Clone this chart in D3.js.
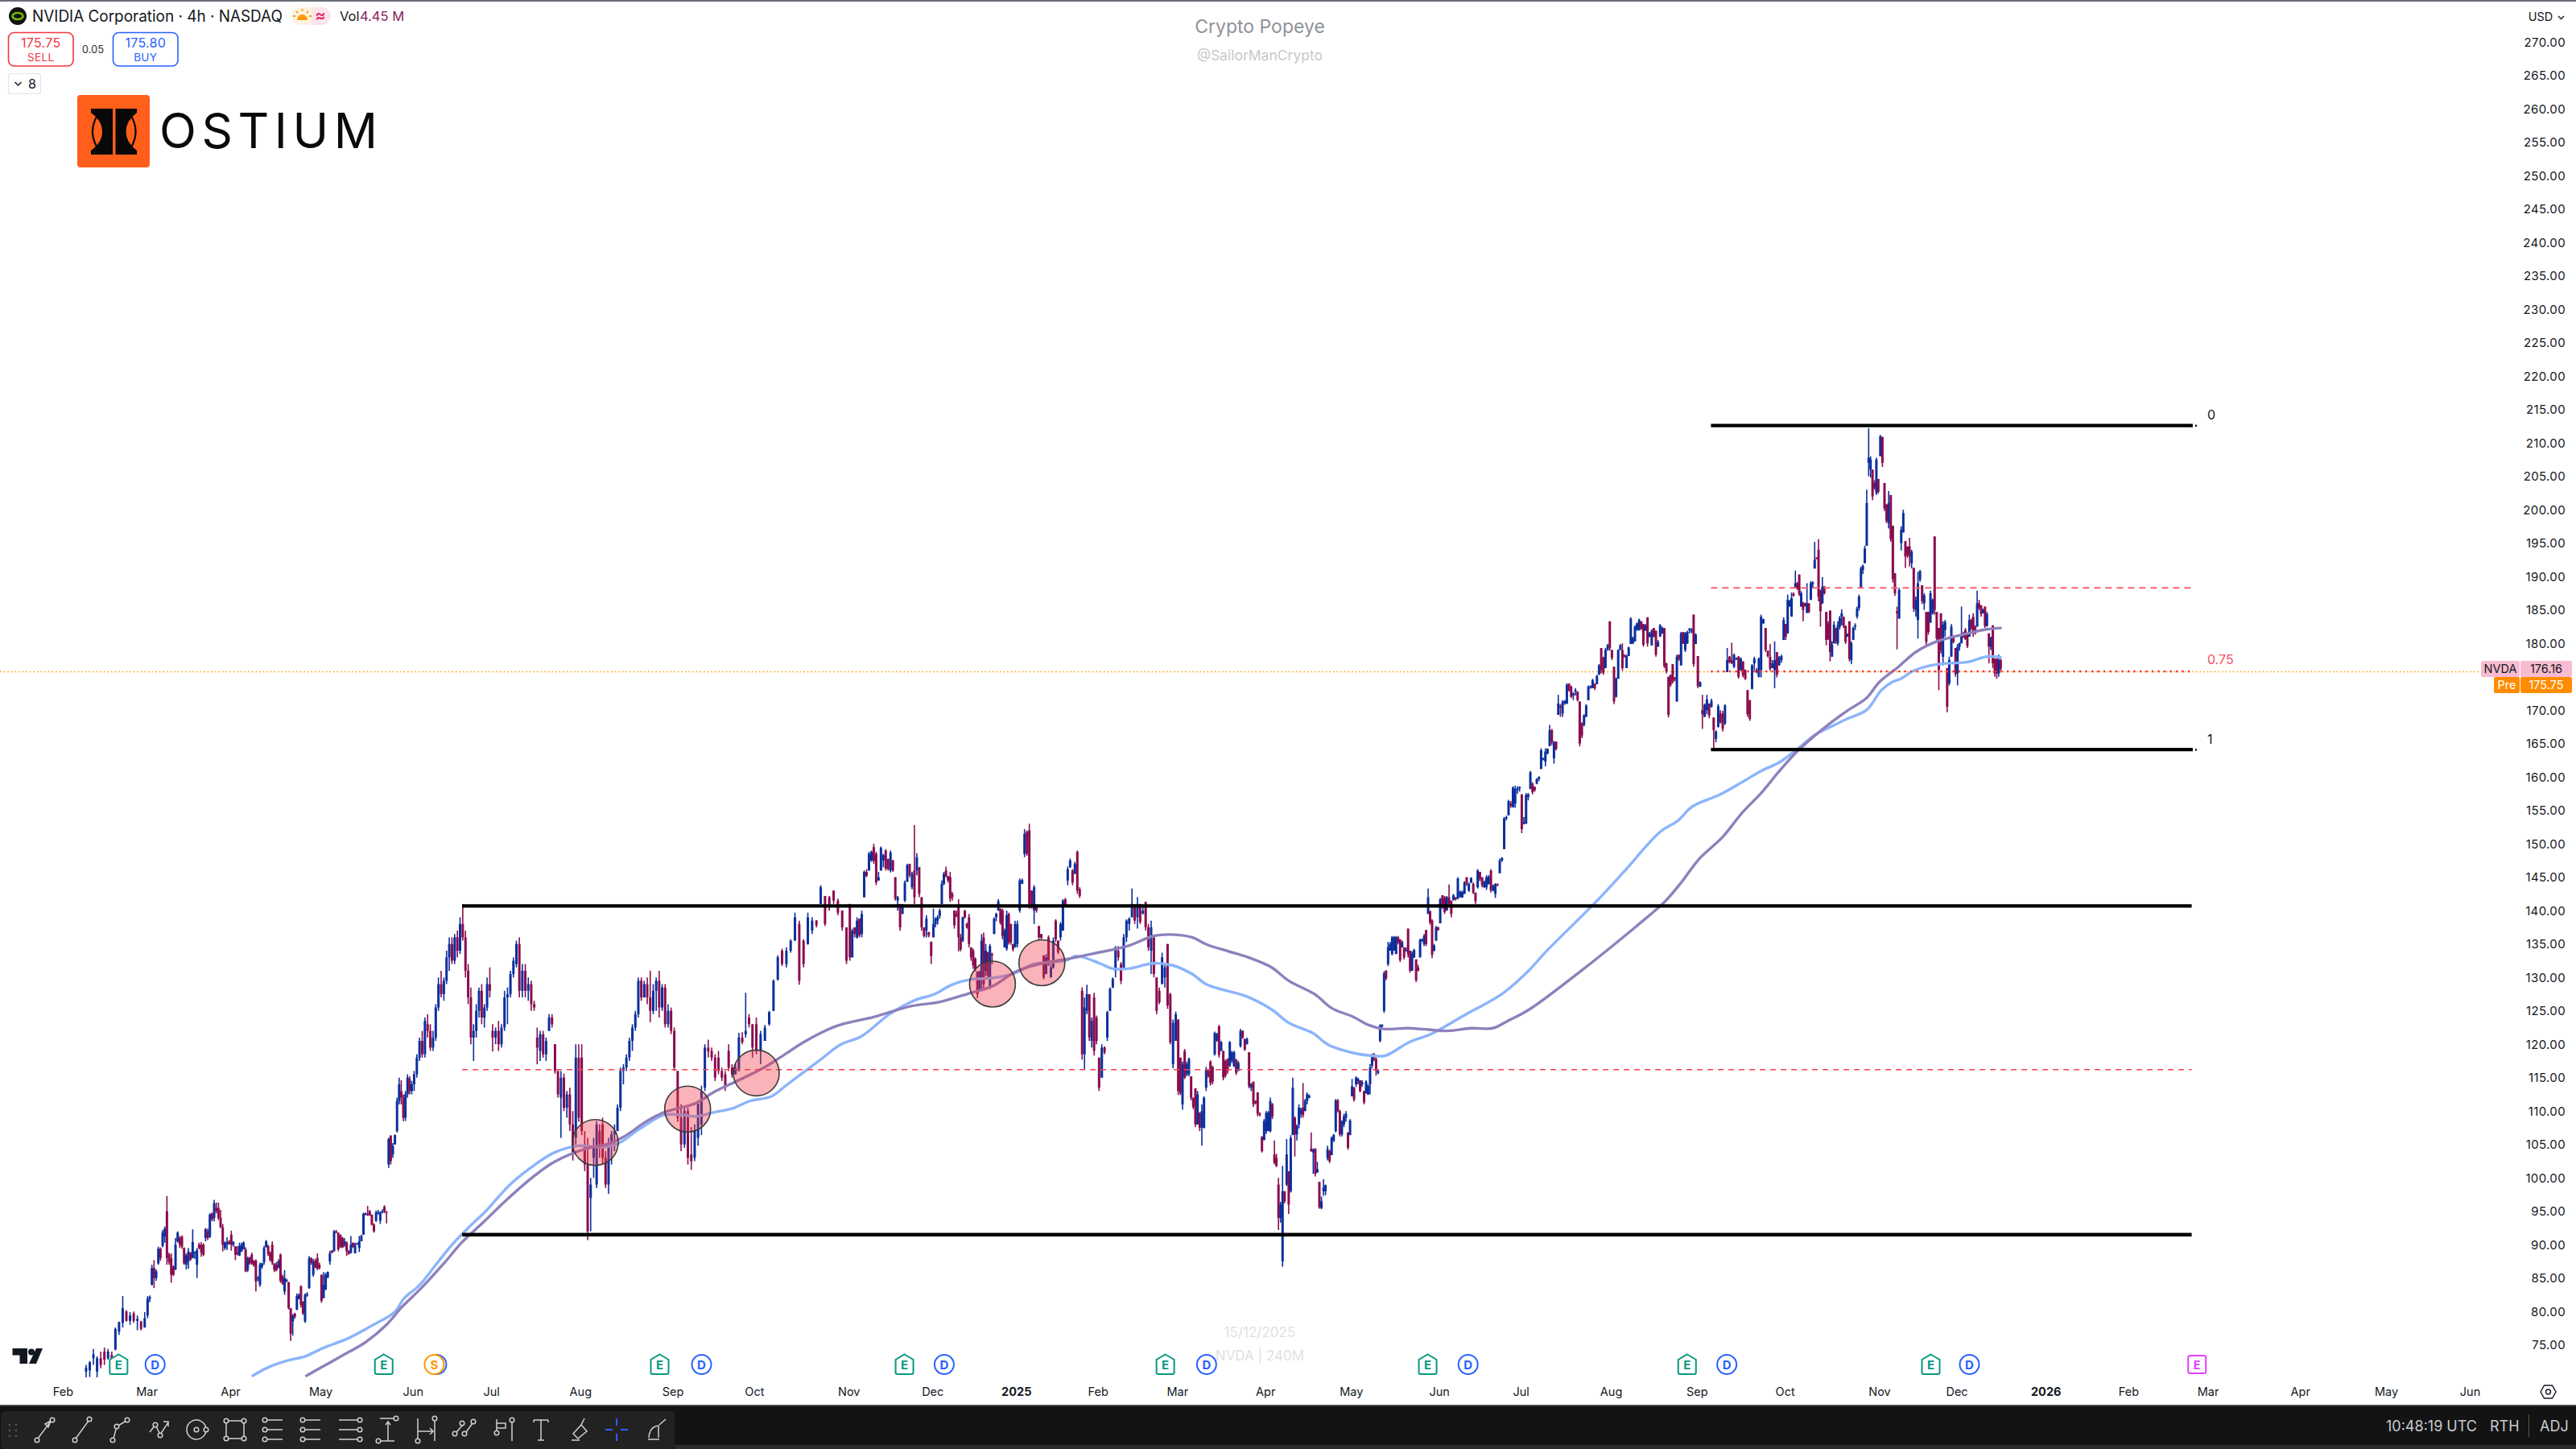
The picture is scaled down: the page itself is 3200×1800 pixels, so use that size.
<!DOCTYPE html>
<html><head><meta charset="utf-8">
<script src="https://cdnjs.cloudflare.com/ajax/libs/d3/7.8.5/d3.min.js"></script>
<style>html,body{margin:0;padding:0;background:#fff}svg{display:block}text{font-family:Inter,"Noto Sans",sans-serif}</style>
</head><body><svg id="c" width="3200" height="1800"></svg>
<script>
// axis data
const priceTicks = d3.range(75, 271, 5).filter(p=>p!==175);
const monthLabels = ["Feb","Mar","Apr","May","Jun","Jul","Aug","Sep","Oct","Nov","Dec","2025","Feb","Mar","Apr","May","Jun","Jul","Aug","Sep","Oct","Nov","Dec","2026","Feb","Mar","Apr","May","Jun"];
const monthBars = [0,39,78,120,163,199.5,241,284,322,366,405,444,482,519,560,600,641,679,721,761,802,846,882,923.5,962,999,1042,1082,1121];
const chunkStarts = [10,39,78,120,163,199.5,241,284,322,366,405,444,482,519,560,600,641,679,721,761,802,846,882,903];
// 4h candles per month: [open, high, low, close]
const feb24=[[71,72,70,71.6],[71.2,72.6,70.2,72.4],[73,74.4,72,73.6],[71,73.3,70,73],[73,74,71.5,72],[74,74.6,72,72.8],[73,74.4,72.8,74],[73.5,74,72.6,72.9],[74.3,77.6,74.2,77.4],[77,78.5,76.5,78.4],[78.3,82.3,77.6,80.5],[80,80.2,78.5,78.6],[78.6,79.9,78,79.4],[79.7,80,78.3,78.6],[78.6,79.4,77.2,78.9],[78.5,78.6,77.2,77.4],[77.6,79.9,77.6,79]];
const mar24=[[79.4,82.3,79,81.9],[81.9,82.4,81.4,82.2],[84,87,83.9,86.5],[86.5,87.7,83.5,85],[85,86.3,84.6,86],[87.2,89.7,87,89.4],[89.4,89.6,87.6,88],[89.8,92.2,89.6,91.8],[91.2,92.7,90.3,92.4],[95,97.3,87,88],[88.5,88.8,87,87.4],[88,88.7,84.3,85.5],[86.7,86.9,85.3,85.5],[86.3,91,86.2,90],[90.5,92,90.3,91.8],[91,91.3,89.5,90],[91.2,91.4,89.4,89.7],[89.5,89.6,87,87.2],[87,88.7,86.3,88.4],[87.5,89.5,86.4,89],[88.8,88.9,87.6,87.8],[88,92.3,88,90.4],[88.7,89,87.9,88.9],[87,89.5,85,89.2],[90,90.3,89.3,89.5],[90,90.4,88.2,88.8],[90,90.2,88.3,88.5],[91,92.5,90.5,92.3],[92,92.4,90.7,91],[91.2,94.7,91,94.5],[94.7,94.8,93.5,93.8],[94,96.7,93.5,96.2],[95.5,96.3,94.7,95],[95.5,96.3,93.7,94],[94,95.2,92.5,92.6],[92.6,93.1,89,90],[89.5,90.5,89.2,90.3],[90,91.1,89.2,90.4],[90.5,90.7,90,90.1]];
const apr24=[[91.5,92.1,89.1,90],[90,90.5,89.7,90.4],[89.7,89.8,87.7,88.5],[88.8,89.8,88.4,88.6],[88.4,90.3,88.3,89.8],[89,90.3,88.9,90],[89.3,90.5,89.3,90.3],[89.3,89.6,85.9,86],[86.2,88.2,85.9,88],[88,88.2,87,87.2],[88.5,88.8,87,87.2],[87.6,87.7,86.7,86.9],[87.6,87.8,83,84.5],[84.9,85.3,84.5,85],[84,87.3,83.7,87],[86.7,87.3,86.4,87.2],[87.4,89.8,87,89.5],[89.6,90.7,89.6,90.5],[89.8,90,88.3,88.6],[88.8,89,87.5,87.7],[90,90.5,87,87.3],[87.2,87.2,85.9,86.2],[87,87.4,86,86.2],[86.5,87.8,86.5,87.5],[88.5,88.7,84.3,84.6],[85.3,85.5,84,84.2],[83,86.2,82.5,85],[84.6,84.9,84.4,84.7],[84.4,84.4,80.3,80.5],[80.5,80.5,75.6,76.7],[78.5,79.6,76.4,79.4],[79.7,79.8,78.9,79.2],[80.3,82.7,80.2,82.3],[81.9,82.7,81.8,82.5],[83.8,83.9,80.6,81],[81.5,81.5,79.5,79.7],[78.5,82.7,78.3,82.5],[82.4,82.9,82.2,82.6],[83.5,88.3,83.4,88],[88,88.1,87,87.3],[85.5,87.9,85.2,87.5],[87.6,87.9,86.5,86.6],[88,88.7,86.2,86.4],[87,87.3,86.3,86.5]];
const may24=[[85.5,85.5,81.3,81.6],[82,85.9,82,84],[83.3,85.8,83.2,85.5],[85.1,86,85,85.9],[87.5,89.1,87,88.7],[89.1,89.2,88.7,88.8],[89,92.2,89,92],[92,92.2,91.7,91.9],[91.8,91.8,89,89.3],[91.5,91.5,89.5,89.7],[91,91.2,89.5,89.6],[90,91,89.7,90.5],[90.3,90.5,88.3,89],[89,89.2,88.5,88.6],[88.8,91.3,88.7,90],[90.3,90.3,89.5,89.7],[88.7,90.3,88.7,90],[90.1,90.3,90,90.2],[89.5,91.3,88.9,90.5],[90.5,91.5,90.5,91.3],[91.5,94.8,91.5,94.6],[94.5,94.8,94.4,94.7],[94.6,95.8,94.3,94.5],[95,95.2,94.3,94.4],[94.5,94.5,92.9,93],[93,93.2,91.8,92],[93.6,95.1,93.4,94.8],[94.7,95.2,94.5,94.9],[93.6,95,93.1,94.8],[94.8,95.3,94.7,95],[95.7,95.9,94.7,95],[95,95,93.2,94.9],[102,106,101.5,105.8],[106.3,106.4,102,102.5],[103.5,105.2,103,104.8],[105,106.5,105,106.4],[107,112,106.8,111.5],[111.5,115,111,114],[113,114.6,111,112],[112,112.5,108.5,109],[109,113,108.5,112.5],[112.5,115.5,112,115],[114.8,115.2,112.5,113],[113,114.5,112.5,114]];
const jun24=[[114,116,113,115.5],[115.5,118.5,115,118],[118,121,117.5,120.5],[120.5,122,118,118.5],[118.5,124,118,123.5],[123,124.5,121,122],[122,123,119,119.5],[119.5,122,119,121],[121,126,120.5,125.5],[125.5,130,125,129],[129,131,127,127.5],[127.5,130,126.5,129.5],[129.5,134,129,133],[133,136,131,135],[135,136,132,132.5],[132.5,136.5,132,136],[136,137,133,134],[134,139,133.5,138],[138,141,135.5,136],[136,137,130,131],[131,132,126,127],[127,128.5,120,121],[121,123,117.5,122],[122,126,121,125],[125,128.5,124,128],[128,129,123,124],[124,126,122.5,125.5],[125.5,130,125,129],[129,131.5,127,128]];
const jul24=[[122,123,118.9,121],[121,122.5,120,122],[122,123.5,119,120],[120,123,119.5,122.5],[122.5,128,122,127],[127,128.5,123,127.5],[127.5,131,127,130.5],[130.5,133,130,132.5],[132,135.5,131.5,135],[135,136,127,128],[128,132,127,131],[131,132,127,128],[128,130,126.5,129],[129,129.5,125,126],[126,126.5,125,125.5],[121,122.5,117,119.5],[119,122,117.5,121.5],[121.5,122,118,118.5],[118.5,121,117.5,120.5],[122,124.5,122,124],[124,124.5,122.5,123],[120,120,115.6,116],[116,116,112,112.5],[112,116,106,115],[115,115.6,110,110.5],[110.5,113,109,112.5],[112.5,113.5,107,108],[108,110,102.6,103.5],[106,120,105,118],[118,120,108.4,109]];
const aug24=[[118,120,106.4,107],[105,107,101,102],[102,106,90.7,92],[97,100,92,99],[103,106,100,104.5],[99,108.5,98.5,108],[107,108,103,105],[108,109,102,103],[103,104,98.5,99],[99,106,97.6,105],[105,107,102,106.5],[106.5,108,104,107],[107,111,107,110.5],[110.5,116.5,110,116],[116,117,114,116.5],[116.5,118.5,116,118],[118,121,117.5,120.5],[120.5,123,119,122.5],[122.5,125,122,124.5],[124.5,130,124,129.5],[129.5,130,126.5,127],[127,129.5,127,129],[129,130,126,127],[127,131,123.3,125],[125,129,124.5,128],[128,130,125,129.5],[129.5,131,124,125.5],[125.5,129,125,128.5],[128.5,129,122.5,123],[123,126,122.5,125],[125,125.5,121.5,122]];
const sep24=[[122,122.5,116,116.5],[116,116,108.4,109],[109,111,104,105],[105,110.8,104.5,110],[110,110.5,102,103],[103.5,107.6,101.2,102.5],[103,108,102.5,107],[106,111.6,104.8,111],[108,113.8,106.4,113],[113.5,120,113,119.5],[119.5,120.7,118,118.9],[119,119.5,117.5,118],[118,118.5,114.5,115],[118,119,115.5,116],[116,116.5,114.5,115],[115.5,116,113,113.5],[119,120,116,116.5],[116.5,117,115,115.5],[115.5,117,115.5,116.5],[116,121.7,116,121],[121,121.8,120,120.3],[121.5,127.7,121,122],[124,124.5,122.5,123],[123,123,118,119.5]];
const oct24=[[123,124,118.5,119],[119,122,117,121.5],[120.5,122.9,120.5,122.5],[123,125,122.8,124.8],[125,129.7,125,129.5],[129.7,133.3,129.5,133],[134,134.3,131.7,132],[132,134.5,131.5,134],[134,135.7,133.7,135.5],[135.5,139.7,135.5,139],[138,138.5,128.9,129.5],[135.5,135.7,131.5,132],[135,139.7,134.9,139],[137,139,136.5,138.5],[138.5,138.6,137.5,137.8],[141,143.8,141,143.5],[142.2,142.2,137.7,138],[142,142.2,140,140.5],[143,143,141,141.5],[141.5,141.8,139.3,139.7],[140,140,137,137.5],[137.5,137.5,132,132.5]];
const nov24=[[141,141,132.5,133],[133,137.3,133,137],[137.5,137.5,136,136.5],[136,139,135.8,138.5],[138.8,138.8,136,136.3],[136.5,140,136,139.5],[142,146,142,145.8],[145.8,146.2,145,145.2],[146,148.8,146,148.5],[147.5,149,147.3,148.8],[149.5,150,147,147.4],[148.5,148.8,143.8,144.2],[144.5,145.8,144.5,145],[146,149.6,146,149.4],[147.5,148.5,146.5,148.3],[149,149.2,146,146.3],[147.7,147.8,146,146.2],[146,149,145.7,148.7],[147.5,147.6,145.8,146],[145,145,141.5,141.8],[141.5,142.2,140,142],[141,141,137,137.5],[139.5,141,139.5,140.7],[141.5,144.5,141.3,144.2],[144.3,147,144.3,146.8],[147,147,145,145.3],[143.5,145.8,143.2,145.5],[146,152.8,141,142],[146,148.6,145.3,148],[146.5,146.5,142,142.5],[142,142,137,137.5],[137.5,137.5,136,136.2],[137,139.3,136,138.8],[136.8,136.8,136,136.3],[135.3,135.4,132,133.2]];
const dec24=[[136,140.3,136,138],[138,139,137.5,138.8],[138.5,139.3,137.9,139],[139.2,140.3,138.8,140],[141,144.5,141,144],[144,145.8,143.8,145.5],[146,146.6,145,145.2],[145.2,145.2,144.2,144.5],[145,145.8,141.3,141.8],[142.5,142.8,141.5,142],[140,140,137.3,137.8],[139.5,140,139,139.2],[140.5,141.7,133.9,136],[136,136.5,133.9,134.2],[135.5,139.1,135.3,139],[140,140.1,138.8,139],[138,138.2,137.3,137.5],[139,139.5,134.5,135],[134.5,134.5,132.5,133],[134,134.3,131.3,131.8],[132.8,133,130.9,131.2],[130.9,130.9,126.9,127.5],[128,131,128,130.8],[130,136.5,128,135.5],[136,136.7,128,129],[131,135,130.2,134],[133.8,133.8,130,130.3],[128.5,135,128.3,134.7],[133.5,133.7,132,133.4],[136.5,139,136.5,138.8],[139,139.7,138.4,139.5],[140,141.7,140,141.4],[140.3,140.3,137.9,138.2],[140,140.3,135.7,136.2],[134.5,137.3,134.5,137],[134.3,140,134,139.3],[139.5,139.7,134.9,135.2],[138,138,134.9,135.3],[135,135,133.9,134.2],[134.5,138.5,134.5,138]];
const jan25=[[135,138.5,134.5,138],[140,144.8,139.7,144.5],[144,144.8,144,144.6],[148.5,152.2,148,151.5],[151.8,152,148.2,148.5],[152,153,140.3,141],[143,143,140.3,140.5],[140,143.8,138,143.5],[140.8,140.8,139.7,140],[137.7,137.7,135.7,136],[136.5,136.5,135.7,135.9],[133.3,133.3,129.7,130],[130.5,133.5,130.5,133],[136,136.3,131.7,132],[130,132,130,131.5],[131.5,136,131.3,135.5],[138.5,138.7,135.3,135.7],[135.5,135.5,133.5,133.8],[136,138.3,135.5,138],[137,141.7,137,141.5],[141.7,141.9,140.5,140.8],[144.5,146.6,143.8,146.2],[146.5,147.8,146.4,147.5],[146,146.2,143.8,144.2],[145.5,147.3,145.5,147],[148.8,149,142.5,143],[143.2,143.5,141.9,142.2],[128,128.5,117.7,118.5],[118.5,127,116.3,125.5],[125,128.9,124.5,127.5],[127.5,127.5,120.5,121],[120.5,124,119.5,123.5],[127,127.7,118.3,119],[124,124.3,120,120.5]];
const feb25=[[118,118,113,113.5],[115,120,115,119.5],[119.5,119.7,118.5,118.8],[121,125,120.5,124.8],[125,128.5,125,128.3],[128.5,130,128.4,129.8],[131,134.7,130,134.5],[134,134.7,132.5,133],[132,132.3,129,129.5],[131.5,136.5,131.3,136],[136,138.7,135.3,138.5],[138,139,137,138.8],[139,143.3,139,141],[140.5,141,138,138.5],[139,142,137.3,141],[141,141,138,138.3],[139.5,140.5,139.5,140],[141.3,141.3,137,137.5],[137.5,138,134,134.5],[134,138.5,130.5,137.5],[136,136,130,130.5],[130,130,124.5,125],[128,128.5,126,126.3],[129,133.7,129,133],[130,132,128.5,131.5],[135,135,125.3,125.8],[127.5,127.7,120,120.3],[117,123.7,116.4,123.2],[120.5,124.9,120.5,124.5]];
const mar25=[[123.7,123.7,112.4,113],[118,118,112.4,112.7],[111,117.4,110.2,117],[119,119.3,114.8,115],[115.5,117.4,115.2,117],[115.5,118,115.2,117.8],[115.2,115.2,111.6,112],[112,112,110.3,110.6],[113.4,113.4,107.6,108],[108,113,108,112.5],[109.8,109.8,107,107.5],[107.5,111,104.8,110],[107.5,112.2,107.4,112],[113.5,116.6,113,116.2],[116,116.2,115,115.2],[117.4,117.6,113.8,114.2],[116.6,116.8,114,114.4],[118.5,121.9,118.3,121.7],[120.5,121.7,120.4,121.5],[122.7,122.9,118,118.4],[119,120.5,119,120.3],[119,119,114.6,115],[117.5,117.7,115,115.3],[117.8,117.9,115.6,116],[116.8,120.5,116.6,120.3],[117.5,119,117.2,118.8],[116.7,119,116.6,118.8],[117.7,117.8,115.4,115.7],[116,117.5,116,117.2],[119.7,122.3,119.5,122],[122,122.1,120.8,121],[120.8,120.8,119,119.2],[120,121,120,120.8],[118.8,118.8,113.4,113.7],[113.5,114.2,113,114],[114.4,114.4,110.6,111],[111.5,111.6,111,111.2],[112.8,112.8,109.2,109.6],[109.6,109.8,109.2,109.4],[106.2,106.2,103.8,104],[105.7,108.8,105.6,108.5]];
const apr25=[[107,110,106.6,109.7],[107,110,107,109.8],[107,112,106.8,111.5],[111,111.2,108.8,109.2],[103.5,105.6,102,102.3],[103,103.6,101.6,101.8],[99,100,92.2,94],[94,96.4,93.3,96],[87.5,101.8,86.7,98],[98,98,96.2,96.5],[99,105.8,98.8,103.5],[101,101,94.6,96],[98,106.4,97.8,106],[106.4,115,106.4,113.5],[109,109.2,103.2,106.5],[106.5,108,105.6,107.8],[108,111,107.4,110.5],[109.6,110.5,109,110.2],[110.5,114.2,109,109.4],[110,111.8,110,111.5],[111.5,112.8,111,112.5],[112,112.5,111.9,112.3],[104.4,106.8,103.9,104],[103.8,104.4,100.6,104.2],[104.4,104.4,100.2,100.6],[100.8,102.4,100.8,101.3],[99.4,99.4,95.4,95.6],[95.5,97.2,95.3,96.5],[98,99.8,97.3,98.5],[98,99,97.4,98.9],[103,104.8,102.6,104.3],[104,104.2,102.2,102.5],[103.4,106.2,103.4,106],[105.5,106.6,105.4,106.4],[107,111.8,106.8,111.6],[111.6,111.8,109.8,110],[110,110.2,106.2,106.5],[106.5,108.6,106.2,108.4],[108,109.6,107.6,109.2],[109,110,108.4,109.6],[106.8,106.8,104.2,104.5],[106.4,108.8,106.4,108.6]];
const may25=[[112.2,114.8,112.2,113.7],[113.5,113.6,111.4,111.7],[114,115.2,113.6,115],[114.5,115,114,114.8],[114.6,114.6,112.8,113],[114,114.6,113.6,114.3],[113,113,111,111.3],[112.7,114.6,112.6,114.4],[112.5,114,112.4,113.8],[114,117,112.5,116.5],[116.8,118.6,116.4,118.4],[118.5,118.7,117.5,117.8],[117.8,118,115.3,116],[115.7,116.3,115.5,116],[120.5,123,120.3,122.8],[122.8,123,122.5,122.9],[125,130.9,124.7,130.6],[131,131.1,129.6,129.9],[132,135.3,131.7,134.5],[134,135.3,134,135],[133.5,136.2,133.3,136],[134,136.2,134,136],[133.5,136.2,133.5,136],[136,136.2,135,135.2],[135.7,135.7,132.3,132.6],[134.5,135.5,134.5,135.3],[134.5,134.5,132.7,133],[134,134.5,133.9,134.1],[137.3,137.3,133,133.5],[134,134,130.7,131],[131,133.9,131,133.5],[133,134.3,132.9,134.1],[132.7,132.7,129.3,129.6],[131.5,131.9,130.9,131],[133,135.8,133,135.6],[135.5,135.8,135.3,135.7],[135,136.5,134.7,136.2],[137.1,137.1,134.7,135],[139.5,143.3,139.5,142],[139.9,140,137.9,138.2],[138.5,138.7,132.9,133.4],[134,135,133.9,134.8],[135.5,137.7,135.5,137.5],[137.5,137.6,137,137.1]];
const jun25=[[138.1,141.9,138.1,141.7],[142.3,142.3,140.3,140.5],[142,142.2,139.5,139.8],[140,142.2,140,142],[142,143.9,140.7,141],[141.5,141.5,139,139.5],[141.6,142.5,141.5,142.3],[142,142,141.5,141.7],[141.8,145,141.7,144.8],[142,143,142,142.8],[142,143,141.9,142.8],[142.5,144.4,142.5,144.2],[145,145,143.7,144],[143,144.2,142.8,144],[144.2,145,144.1,144.9],[144,144.2,142.5,142.7],[142.7,142.7,141,141.4],[143.5,146.2,143.3,146],[145.8,145.8,144.4,144.7],[145,145,143.5,143.8],[143.5,144.5,143.4,144.3],[143.5,145.3,143.1,145],[144,145.3,143.9,145.1],[146,146.2,142.7,143],[143,143.9,142.9,143.7],[142.5,144.1,141.9,144],[143.9,144.1,143.7,143.8],[145.6,147.8,145.6,147.5],[147.5,148,147.3,147.9],[149.2,154,149.2,153.8],[153.8,154.2,153.5,154],[154.3,156.6,154.2,156.4],[156,156.4,155.4,155.7],[155.5,158.6,155.4,158.4],[156,158.7,155.4,158.2],[158,158.6,157.5,158.3],[158.3,158.6,157.8,158.5]];
const jul25=[[157.4,157.4,151.6,152.2],[153,154,152.9,153.2],[153,157.6,153,157.3],[157,157.6,156.5,157.4],[158.2,160.9,158.2,160.7],[159,159.2,157.4,157.7],[158.5,158.6,157.8,158],[159,159.8,158.9,159.7],[159.7,160.1,159.4,160],[161.2,164.3,161.2,164],[162.6,162.9,162.5,162.8],[162.3,164.3,161.6,163.8],[163.5,164.3,163.4,164.2],[164.6,167.8,164.6,167],[167,167.2,164.8,165.2],[162.8,165.4,162,165.2],[165.3,165.3,164,164.2],[169.3,172.3,169.3,171],[170.6,170.9,169,170.5],[169.5,171.5,169,171.2],[171,171.5,170.8,171.4],[171,174,170.9,173.8],[174,174,172.8,173],[173.5,173.7,171.8,172],[172.2,172.7,171.5,172.5],[172.8,173.3,172.2,173],[172.8,172.8,171.3,171.5],[171.3,171.3,164.6,165],[168,168.2,165.8,166.2],[167.8,169.4,167.6,169.2],[169,170.9,169,170.7],[171.5,173.7,171.5,173.5],[173.4,173.7,173.2,173.6],[173.3,174.7,173.3,174.5],[174,174,173,173.3],[173.9,175.3,173.9,175.1],[175.3,176.9,175.3,176.7],[179.3,179.3,175.5,176],[177.9,178,175.3,175.6],[176.3,179.3,176.3,179],[179,179.9,178.9,179.7],[183.3,183.3,178.9,179.3]];
const aug25=[[179,179,177.5,177.8],[176.5,176.5,170.9,171.3],[172,174.9,171.9,174.7],[174.7,179.1,174.7,179],[179,179.9,179,179.7],[179,180,175.9,176.3],[178.3,178.3,177.9,178],[176.3,178.3,176.3,178.1],[178.1,179.5,178.1,179.4],[179.9,183.9,179.9,183.7],[180,181,179.9,180.8],[180.3,182.7,180.3,182.5],[182,183.1,181.9,183],[182,183.7,181.9,183.5],[183.3,183.3,182,182.2],[182.9,182.9,179.5,179.8],[181.9,182.9,181.9,182.7],[183.9,183.9,179.5,180],[181,181.7,180.9,181.5],[179.7,182.1,179.7,181.9],[182.3,182.3,180.9,181],[181.9,181.9,178,178.3],[179.5,180.5,179.5,180.2],[181,182.9,181,182.7],[181.5,182.5,181.4,182.3],[182.3,182.3,176.3,176.6],[177,177.1,175.5,175.8],[175,175,168.9,169.3],[175.3,175.3,173.5,173.8],[176.9,176.9,174,174.3],[174.9,174.9,174.3,174.6],[171.3,178.3,171.3,178],[178.3,178.3,177.4,177.6],[176.7,181.7,176.7,181.5],[181.7,181.7,179.9,180],[179,181.7,178.7,181.5],[180,181.9,179.9,181.7],[182,182.3,181.5,182.2],[181.8,182.3,181.5,182],[184.3,184.3,176.5,176.9],[179.9,181.5,179.9,181.3]];
const sep25=[[178.1,178.1,173.3,173.6],[173.5,174.3,173.5,174.2],[170,172.3,167.2,169.4],[169,171,169,170.8],[170,172.3,169.4,171.6],[171,171,168.8,169.2],[170.5,171.7,170.4,171.4],[168.9,168.9,164.2,167],[165.7,167,165.2,166.8],[167.5,170.9,167.4,170.6],[169.5,170,168,168.2],[169.5,169.9,166.8,167.2],[168,170.9,167.8,170.7],[175.7,179.3,175.7,177.5],[178,178.1,177,177.2],[177.5,180.1,176.9,177],[176.5,178.5,176.3,178.3],[177.7,177.9,177.5,177.8],[178,178.1,174.7,175],[176,177.9,175.9,177.7],[177.3,177.3,174.9,175.2],[176,176.1,174.5,174.7],[173,173,169,169.4],[171.5,171.5,168.4,168.7],[173.2,176.9,173.1,176.7],[177,178,176,177.7],[176,176.3,175.5,175.7],[175,177.9,174.9,177.7],[176,184.3,174.9,184],[183,183.7,182.9,183.6],[182.3,182.3,178.7,179],[178.9,178.9,177.9,178.1],[178,179.9,175.9,176.2],[176.3,177.5,176.3,177],[176,180.3,173.3,177.5],[178.7,178.7,174.9,175.3],[176.7,178.1,176.7,177.9],[177.5,178.3,177.1,178.1],[180.5,183.9,180.5,183.5]];
const oct25=[[182.9,182.9,180.5,181],[181.5,187.3,181.5,186.5],[185.5,186.5,185.5,186.3],[184,187.6,184,186.8],[187.4,187.6,187,187.1],[188.3,190.9,188.3,189],[189,189.2,188,188.2],[190.3,190.3,187.1,187.4],[185.5,187.8,185.5,187.5],[186,186.2,183.3,185],[186,186.1,185.5,185.6],[184.6,189,184.5,186],[186,186,184.5,184.7],[186.5,189.3,186.5,189],[188.9,189.3,188.3,189.1],[191.2,195.2,191.2,192.5],[192.8,192.9,192.6,192.7],[194,195.6,186.3,187],[188,188,182.5,184.8],[186,189.9,185.9,188.5],[188.5,188.6,187.3,187.5],[184.7,184.7,179.7,180.5],[183,183.3,180.5,180.7],[184.9,184.9,177.3,178.7],[178,180.3,178,179.8],[180,183.3,180,182.8],[182.3,182.3,179.9,180.3],[180,183.3,179.7,182.7],[182.5,184.1,182.1,183.8],[184,185.1,182.7,184.5],[184,184,182.3,182.6],[182.6,182.7,179.9,180.2],[181,181.5,181,181.3],[183.3,183.3,177.3,177.7],[177.5,180.3,176.9,180],[180.5,182.5,180.5,182.3],[182.5,183,182,182.7],[184,185.5,183.7,185.2],[185.3,187.3,184.9,187],[188.3,191.5,188.3,191.2],[191,191.8,190.4,191.6],[192,194.6,192,194.2],[194.6,203,194.6,201],[207,212.2,205,207.8],[206,208,204.8,207.5],[206,206,201.4,202],[204,204.4,203,203.3],[202.5,207.8,202.2,207.5],[204.6,204.6,202.4,202.7]];
const nov25=[[208,211.2,208,211],[210.9,210.9,206.4,207],[204,204,199.8,200.2],[200.8,200.8,198,198.3],[198,202.8,197.2,201],[202.2,202.2,195.2,195.6],[197.6,197.6,189.1,189.6],[190.5,190.5,187.1,187.5],[184.8,185.5,179.1,184.5],[183.7,188.3,183.7,188],[195,197.5,193.9,197],[196.6,200,196.6,199.5],[195.3,195.3,191.3,193],[194.5,194.5,192.8,193.2],[194.5,195.8,191.5,193],[192,194,191.2,193.7],[191.3,191.3,184.7,185.2],[185,187,184,186.5],[183.5,190.7,180.7,189],[189.5,191,189.2,190.8],[188.7,188.7,185.9,186.3],[186,187.5,185,187.2],[184.7,184.7,179.7,180.2],[184.7,184.7,181.3,181.7],[183.1,187.9,183.1,187.5],[184.5,186.7,184.3,186.5],[196,196,184.3,185],[184.7,184.7,180.3,180.7],[182.3,182.3,173,176],[184.5,184.5,178.5,179],[178,183.3,176.7,182.8],[182,183.5,181,183.2],[176.3,176.3,169.7,170.5],[174,178,173.7,177.5],[178,182.9,178,182.5],[181,181,180,180.2],[179.3,179.3,175,175.4]];
const dec25=[[175.5,179.9,173.7,179.5],[179.5,180.1,178.9,180],[180,185.5,180,181],[181.5,181.7,180.8,181],[182,182.3,180.5,180.7],[181.5,181.5,179.3,179.6],[181,184.3,181,183.5],[183.5,183.7,182,182.3],[184,184.5,181,181.5],[182.5,182.7,181.3,181.5],[182.5,187.9,182.5,186],[186,186.5,185,185.3],[185.7,185.7,184,184.4],[184.5,185.2,184.5,185],[185.5,185.5,182.3,182.6],[182.6,184.7,182.5,184.4],[181.5,181.5,177,179.5],[179.5,181,179,180.8],[182.7,182.7,176.3,177],[177.7,177.7,175,175.5],[177.7,177.7,174.7,175.5],[175.5,178.3,175,177.5],[177.5,177.7,175.9,176.2]];
const monthlyCandles=[feb24,mar24,apr24,may24,jun24,jul24,aug24,sep24,oct24,nov24,dec24,jan25,feb25,mar25,apr25,may25,jun25,jul25,aug25,sep25,oct25,nov25,dec25];
// moving averages: [bar, price]
const maFast=[[88,70.3],[96,71.7],[105,72.7],[113,73.3],[121,74.5],[133,76],[144,77.9],[154.5,79.9],[159,82],[166,83.9],[174,87.1],[181,89.9],[191,93.2],[196,94.7],[209,99.2],[220,102],[229,103.8],[240,104.8],[251,104.6],[259,105.2],[268.5,107.3],[280,109.4],[289.5,109.4],[295,109.2],[303,109.8],[312,110.4],[320,111.5],[330,112.2],[337.5,114],[352.5,117.6],[362,119.9],[372,121.2],[385,124.5],[397,126.6],[406,127.5],[414,128.9],[423,129.7],[433,129.9],[444,130.7],[452,132],[467,132.5],[472,133.2],[483,132.1],[489,131.3],[496,131.3],[508,132.1],[517,131.8],[526,130.5],[533,128.9],[551,127.2],[563,125.2],[571,123.2],[582,121.7],[589.5,119.9],[601,118.7],[609,118.3],[616,118.3],[627,120.3],[637,121.5],[652,124.2],[671,127.7],[683,131.1],[690,133.6],[714,141.3],[727,145.8],[744,151.8],[752,153.4],[759,155.6],[772,157.4],[783,159.4],[791,160.9],[799.5,162.2],[808,164.2],[816,166.3],[822,167.3],[831,168.7],[840,170],[847,173],[852,174.2],[856,174.7],[862,175.9],[870,176.7],[877,177],[887,177.2],[896,178],[903,177.9]];
const maSlow=[[113,70.3],[123,72.1],[133,73.9],[141,75.4],[151,78.1],[158,80.7],[166,83.2],[178,87.4],[186,90.4],[196,93.4],[207,96.8],[220,100.4],[229,102.4],[244,104.4],[253,105],[261,106.1],[272,108.5],[280,109.8],[295,111.2],[303,112.8],[314,114.5],[326,116.4],[335,118.2],[345,120.3],[360,122.7],[378,124.1],[395,125.7],[408,126.3],[423,127.7],[433,128.7],[444,130.9],[456,132.1],[467,132.7],[479,133.5],[496,134.7],[508,136.2],[518,136.4],[526,136],[533,134.9],[543,133.9],[553,132.9],[563,131.5],[571,129.5],[583,127.5],[591,125.4],[601,124.1],[608,122.9],[615,122.3],[626,122.4],[636,122.2],[645,122],[656,122.4],[666,122.4],[673,123.5],[683,125.2],[706,130.7],[736,138.5],[746,141.3],[754,144.3],[762,147.7],[773,151],[782,154.6],[791,157.6],[799.5,160.9],[808,163.9],[819,167],[831,169.9],[840,171.8],[846,174.2],[855,176.5],[863,178.7],[873,180.3],[886,181.4],[896,182.1],[903,182.3]];
// drawings
const rangeLevels=[140.7,116.2,91.5];
const rangeBars=[186,991.5];
const fibLevels=[212.6,188.3,175.8,164.1];
const fibBars=[767.6,992];
const lastPrice=175.75, closePrice=176.16;
const circleMarks=[[248,105.3],[291,110.3],[323,115.7],[433,129],[456,132.2]];
const eventMarks=[["E",26],["D",43],["E",149.5],["S",173],["E",278],["D",297.5],["E",392],["D",410.5],["E",513.5],["D",532.7],["E",635.7],["D",654.5],["E",756.5],["D",775],["E",870],["D",888]];
const upcomingEarnings=["E",994];

const svg=d3.select("#c");
const x=d3.scaleLinear().domain([0,1121]).range([78,3068]);
const y=d3.scaleLinear().domain([75,270]).range([1670.7,52.2]);
const PANE_BOTTOM=1711;
svg.append("rect").attr("width",3200).attr("height",1800).attr("fill","#fff");
svg.append("rect").attr("width",3200).attr("height",2).attr("fill","#6a6d78");
svg.append("defs").append("clipPath").attr("id","pane").append("rect").attr("x",0).attr("y",0).attr("width",3100).attr("height",PANE_BOTTOM);

// titles
const centerText=(t,yy,s,c)=>svg.append("text").attr("x",1565).attr("y",yy).attr("text-anchor","middle").attr("font-size",s).attr("fill",c).text(t);
centerText("Crypto Popeye",41,23,"#8f929b");
centerText("@SailorManCrypto",75,17.5,"#c6c8ce");
centerText("15/12/2025",1661,17,"#dfe1e5");
centerText("NVDA | 240M",1690,17,"#dfe1e5");

const pane=svg.append("g").attr("clip-path","url(#pane)");
// current price line
pane.append("line").attr("x1",0).attr("x2",3082).attr("y1",y(lastPrice)).attr("y2",y(lastPrice)).attr("stroke","#ff9800").attr("stroke-width",1.6).attr("stroke-dasharray","1.6 3");

// candles
const candles=[];
monthlyCandles.forEach((list,m)=>{
  const step=(chunkStarts[m+1]-chunkStarts[m])/list.length;
  list.forEach((d,i)=>candles.push({bar:chunkStarts[m]+(i+0.5)*step,o:d[0],h:d[1],l:d[2],c:d[3]}));
});
const up="#0b2f9c",down="#8a0c4e";
pane.append("g").selectAll("line").data(candles).join("line")
 .attr("x1",d=>x(d.bar)).attr("x2",d=>x(d.bar)).attr("y1",d=>y(d.h)).attr("y2",d=>y(d.l))
 .attr("stroke",d=>d.c>=d.o?up:down).attr("stroke-width",1.6);
pane.append("g").selectAll("rect").data(candles).join("rect")
 .attr("x",d=>x(d.bar)-1.5).attr("width",3)
 .attr("y",d=>y(Math.max(d.o,d.c))).attr("height",d=>Math.max(1.5,Math.abs(y(d.o)-y(d.c))))
 .attr("fill",d=>d.c>=d.o?up:down);

// moving averages
const lineGen=d3.line().x(d=>x(d[0])).y(d=>y(d[1])).curve(d3.curveCatmullRom.alpha(0.5));
pane.append("path").attr("d",lineGen(maFast)).attr("fill","none").attr("stroke","#8bb4fb").attr("stroke-width",3.4);
pane.append("path").attr("d",lineGen(maSlow)).attr("fill","none").attr("stroke","#8e80bc").attr("stroke-width",3.4);

// horizontal range drawing
const hline=(bars,p,st,w,dash)=>{const l=svg.append("line").attr("x1",x(bars[0])).attr("x2",x(bars[1])).attr("y1",y(p)).attr("y2",y(p)).attr("stroke",st).attr("stroke-width",w);if(dash)l.attr("stroke-dasharray",dash);return l;};
hline(rangeBars,rangeLevels[0],"#000",4.4);
hline(rangeBars,rangeLevels[2],"#000",4.4);
hline(rangeBars,rangeLevels[1],"#f4404f",1.6,"7 6");
// fib drawing
hline(fibBars,fibLevels[0],"#000",4.4);
hline(fibBars,fibLevels[3],"#000",4.4);
hline(fibBars,fibLevels[1],"#f8616f",2,"8 6");
hline(fibBars,fibLevels[2],"#f23645",2.4,"2.4 5.1");
[fibLevels[0],fibLevels[3]].forEach(p=>svg.append("rect").attr("x",x(fibBars[1])+3).attr("y",y(p)-1).attr("width",2).attr("height",2.4).attr("fill","#000"));
const fibText=(t,p,dy,c)=>svg.append("text").attr("x",2742).attr("y",y(p)+dy).attr("font-size",16).attr("fill",c).text(t);
fibText("0",fibLevels[0],-7.5,"#131722");
fibText("0.75",fibLevels[2],-9,"#f7525f");
fibText("1",fibLevels[3],-7.5,"#131722");

// circles
svg.append("g").selectAll("circle").data(circleMarks).join("circle")
 .attr("cx",d=>x(d[0])).attr("cy",d=>y(d[1])).attr("r",28.5)
 .attr("fill","rgba(242,54,69,0.38)").attr("stroke","#3a3a3a").attr("stroke-width",1.6);

// y axis
const yAxis=svg.append("g").attr("transform","translate(3187,0)").call(d3.axisRight(y).tickValues(priceTicks).tickFormat(d=>d.toFixed(2)).tickSize(0));
yAxis.select(".domain").remove();
yAxis.selectAll("text").attr("x",0).attr("text-anchor","end").attr("font-size",15).attr("letter-spacing",0.35).attr("fill","#131722").style("font-family","Inter");

// x axis
const xAxis=svg.append("g").attr("transform","translate(0,1711)").call(d3.axisBottom(x).tickValues(monthBars).tickFormat((d,i)=>monthLabels[i]).tickSize(0));
xAxis.select(".domain").remove();
xAxis.selectAll("text").attr("y",23).attr("dy",0).attr("font-size",14.5).attr("fill","#131722").attr("font-weight",d=>monthLabels[monthBars.indexOf(d)].startsWith("20")?700:400).style("font-family","Inter");

// price tags
const tag=(x0,x1,yy,h,fill,t,col)=>{svg.append("rect").attr("x",x0).attr("y",yy).attr("width",x1-x0).attr("height",h).attr("rx",2).attr("fill",fill);
 svg.append("text").attr("x",(x0+x1)/2).attr("y",yy+h/2+5.3).attr("text-anchor","middle").attr("font-size",14.5).attr("fill",col).text(t);};
tag(3082,3130,821,20,"#f8bbd0","NVDA","#131722");
tag(3131,3195,821,20,"#f8bbd0",closePrice.toFixed(2),"#131722");
tag(3098,3130,841,20,"#ff8c00","Pre","#fff");
tag(3131,3195,841,20,"#ff8c00",lastPrice.toFixed(2),"#fff");
svg.append("text").attr("x",3156).attr("y",26).attr("text-anchor","middle").attr("font-size",14.5).attr("fill","#131722").text("USD");
svg.append("path").attr("d","M3178,20l3.5,3.5l3.5,-3.5").attr("fill","none").attr("stroke","#131722").attr("stroke-width",1.3);

// event markers
const eventY=1695;
const marker=(ev,bar)=>{
 const cx=x(bar),g=svg.append("g");
 const colors={E:"#089981",D:"#2962ff",S:"#ff9800"};
 if(ev==="E"){g.append("path").attr("d",`M${cx},${eventY-12.5}L${cx+11},${eventY-6}V${eventY+10}a2,2 0 0 1 -2,2H${cx-9}a2,2 0 0 1 -2,-2V${eventY-6}Z`).attr("fill","#fff").attr("stroke",colors.E).attr("stroke-width",2);}
 else{ if(ev==="S"){g.append("circle").attr("cx",cx+3).attr("cy",eventY).attr("r",12).attr("fill","#fff").attr("stroke",colors.D).attr("stroke-width",2);}
  g.append("circle").attr("cx",cx).attr("cy",eventY).attr("r",12).attr("fill","#fff").attr("stroke",colors[ev]).attr("stroke-width",2);}
 g.append("text").attr("x",cx).attr("y",eventY+5.8).attr("text-anchor","middle").attr("font-size",15).attr("font-weight",700).attr("fill",colors[ev]).text(ev);
};
eventMarks.forEach(d=>marker(d[0],d[1]));
{const cx=x(upcomingEarnings[1]);
 svg.append("rect").attr("x",cx-11).attr("y",eventY-11).attr("width",22).attr("height",22).attr("rx",2.5).attr("fill","#fff").attr("stroke","#e040fb").attr("stroke-width",2);
 svg.append("text").attr("x",cx).attr("y",eventY+5.5).attr("text-anchor","middle").attr("font-size",14.5).attr("font-weight",700).attr("fill","#e040fb").text(upcomingEarnings[0]);}

// settings icon
svg.append("path").attr("d","M3156,1729l4.5,-8h10l4.5,8l-4.5,8h-10Z").attr("fill","none").attr("stroke","#131722").attr("stroke-width",1.4);
svg.append("circle").attr("cx",3165.5).attr("cy",1729).attr("r",3).attr("fill","none").attr("stroke","#131722").attr("stroke-width",1.4);

// TradingView mark
svg.append("path").attr("d","M15.5,1675H34V1694H24.5V1683.5H15.5Z M45,1675H53L45,1694H36Z").attr("fill","#131722");
svg.append("circle").attr("cx",39).attr("cy",1679.5).attr("r",4).attr("fill","#131722");

// header
svg.append("circle").attr("cx",22).attr("cy",20).attr("r",11).attr("fill","#111");
svg.append("ellipse").attr("cx",22).attr("cy",20).attr("rx",6.5).attr("ry",4).attr("fill","none").attr("stroke","#76b900").attr("stroke-width",2.6);
svg.append("text").attr("x",40).attr("y",27).attr("font-size",19.5).attr("fill","#131722").attr("textLength",311).attr("lengthAdjust","spacingAndGlyphs").text("NVIDIA Corporation · 4h · NASDAQ");
svg.append("path").attr("d","M373,9H387V31H373a11,11 0 0 1 0,-22Z").attr("fill","#fff3e0");
svg.append("path").attr("d","M387,9H400a11,11 0 0 1 0,22H387Z").attr("fill","#fce4ec");
svg.append("path").attr("d","M369,25a6.5,7 0 0 1 13,0Z").attr("fill","#ff9800");
svg.append("path").attr("d","M364,20h3 M384,20h3 M375.5,11v3 M368,14l2,2 M383,14l-2,2").attr("stroke","#ff9800").attr("stroke-width",1.8);
svg.append("text").attr("x",398).attr("y",26).attr("text-anchor","middle").attr("font-size",20).attr("font-weight",600).attr("fill","#e91e63").text("≈");
svg.append("text").attr("x",422).attr("y",26).attr("font-size",16.5).attr("fill","#131722").text("Vol");
svg.append("text").attr("x",447).attr("y",26).attr("font-size",16.5).attr("fill","#8c1d5a").text("4.45 M");
const tradeBox=(x0,x1,col,a,b)=>{svg.append("rect").attr("x",x0).attr("y",40.5).attr("width",x1-x0).attr("height",41.5).attr("rx",7).attr("fill","#fff").attr("stroke",col).attr("stroke-width",1.6);
 const m=(x0+x1)/2;
 svg.append("text").attr("x",m).attr("y",59).attr("text-anchor","middle").attr("font-size",16).attr("letter-spacing",.3).attr("fill",col).text(a);
 svg.append("text").attr("x",m).attr("y",76).attr("text-anchor","middle").attr("font-size",13.5).attr("letter-spacing",.4).attr("fill",col).text(b);};
tradeBox(10.5,91,"#f23645","175.75","SELL");
tradeBox(140.5,221,"#2962ff","175.80","BUY");
svg.append("text").attr("x",115.5).attr("y",66).attr("text-anchor","middle").attr("font-size",13).attr("fill","#333").text("0.05");
svg.append("rect").attr("x",10.5).attr("y",91.5).attr("width",40).attr("height",25).attr("rx",3).attr("fill","#fff").attr("stroke","#e0e3eb").attr("stroke-width",1.2);
svg.append("path").attr("d","M18.5,102l4,4l4,-4").attr("fill","none").attr("stroke","#131722").attr("stroke-width",1.5);
svg.append("text").attr("x",35).attr("y",110).attr("font-size",16).attr("fill","#131722").text("8");

// logo
svg.append("rect").attr("x",96).attr("y",118).attr("width",90).attr("height",90).attr("rx",4).attr("fill","#ff5f1a");
svg.append("path").attr("d","M113,135H140V192H113V187Q127,177 127,163.5Q127,150 113,140Z M170,135H143.5V192H170V187Q156.5,177 156.5,163.5Q156.5,150 170,140Z").attr("fill","#080808");
svg.append("path").attr("d","M120,145Q110,163.5 120,182 M163.5,145Q173.5,163.5 163.5,182").attr("fill","none").attr("stroke","#080808").attr("stroke-width",2.2);
svg.append("text").attr("x",198).attr("y",184).attr("font-size",60).attr("fill","#0a0a0a").attr("textLength",271).attr("lengthAdjust","spacing").style("font-family","Inter").text("OSTIUM");

// bottom bar
svg.append("rect").attr("y",1745).attr("width",3200).attr("height",55).attr("fill","#131313");
svg.append("rect").attr("y",1745).attr("width",3200).attr("height",1.6).attr("fill","#555");
svg.append("rect").attr("y",1795).attr("x",838).attr("width",2362).attr("height",5).attr("fill","#2b2b2b");
svg.append("rect").attr("x",1).attr("y",1753).attr("width",837).attr("height",47).attr("rx",5).attr("fill","#222");
d3.range(3).forEach(r=>d3.range(2).forEach(c=>svg.append("circle").attr("cx",12+c*8).attr("cy",1770+r*7).attr("r",1.3).attr("fill","#555")));
const toolCenters=[55,102,149,198,244,292,339,386,434,482,529,577,626,672,719,766,815];
const toolPaths=[
 "M-8,11L7,-9M1,-7L8,-11L5,-3Z","M-8,11L8,-11","M-8,11L-4,-4L8,-11","M-12,3L-5,-6L1,6L11,-9M5,-10L11,-10V-4",
 "M12,0A12,12 0 1 1 12,-.1","M-9,-11H9M-9,11H9M-11,-9V9M11,-9V9","M-7,-12H12M-7,12H12M-7,0H12","M-7,-12H12M-7,0H12M-7,12H12",
 "M-13,-12H11M-13,0H11M-13,12H11","M-10,-14H7M-10,14H8M0,-9V14M-3,-6L0,-10L3,-6","M-10,-14V14M11,-14V14M-10,2H9M5,-2L9,2L5,6","M-10,3L-2,-6M2,3L10,-8",
 "M-9,-13V-2H2V-8H-9M-9,-2V6M10,-10V14","M-9,-12H9M0,-12V13M-4,13H4M-9,-12V-9M9,-12V-9","M7,-14L3,-6L10,2L-1,11L-7,5L3,-6M-9,13H1","M-14,0H-5M5,0H14M0,-14V-5M0,5V14",
 "M-10,12H4M-9,10Q-8,-4 3,-5L3,10M4,-6L12,-13"];
const toolNodes=[[[-9,13],[10,-12]],[[-9,13],[9,-13]],[[-9,13],[-4,-4],[9,-12]],[[-5,-6],[1,7]],[[0,0],[12,0]],[[-11,-11],[11,-11],[-11,11],[11,11]],[[-10,-12],[-10,12],[-10,0]],[[-10,-12],[-10,0],[-10,12]],[[13,-12],[13,0],[13,12]],[[10,-14],[-12,14]],[[-10,14],[11,-14]],[[-12,5],[-3,-8],[0,5],[11,-10]],[[-9,4],[10,-12]],[],[],[],[]];
const tools=svg.append("g").attr("fill","none").attr("stroke","#cfcfcf").attr("stroke-width",1.5);
toolCenters.forEach((c,i)=>{
 const g=tools.append("g").attr("transform",`translate(${c},1776)`);
 g.append("path").attr("d",toolPaths[i]).attr("stroke",i===15?"#2962ff":"#cfcfcf").attr("stroke-width",i===15?2:1.5);
 toolNodes[i].forEach(n=>g.append("circle").attr("cx",n[0]).attr("cy",n[1]).attr("r",2.8).attr("fill","#222"));
});
const barText=(t,xx)=>svg.append("text").attr("x",xx).attr("y",1777.5).attr("font-size",18).attr("fill","#c9ccd3").text(t);
barText("10:48:19 UTC",2964);
barText("RTH",3093);
barText("ADJ",3155);
svg.append("rect").attr("x",3141).attr("y",1757).attr("width",1).attr("height",28).attr("fill","#555");
</script></body></html>
